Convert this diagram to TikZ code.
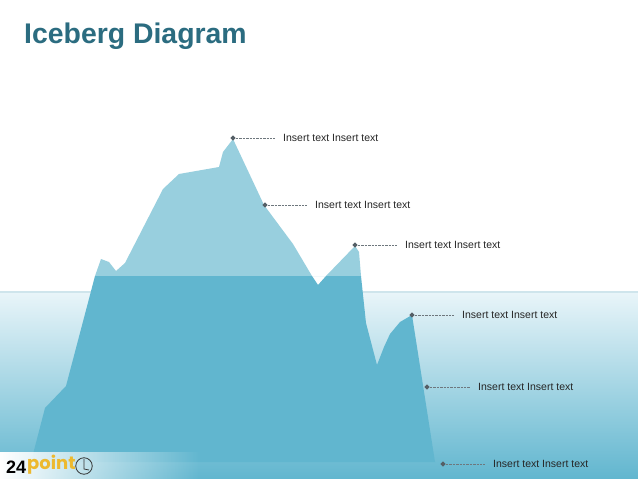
\documentclass[tikz,border=0pt]{standalone}
\usepackage{fontspec}
\setmainfont{Liberation Sans}
\newfontfamily\logofont{Poppins}
\usetikzlibrary{fadings,shapes.geometric}
\definecolor{titleteal}{HTML}{2B6C80}
\definecolor{icetop}{HTML}{98CFDE}
\definecolor{icebody}{HTML}{61B6CF}
\definecolor{watertop}{HTML}{E9F5F9}
\definecolor{watermid}{HTML}{B2DCE8}
\definecolor{waterline}{HTML}{CFE5EC}
\definecolor{tipgrey}{HTML}{555F66}
\definecolor{logoyellow}{HTML}{EDB92E}
\begin{document}
\begin{tikzpicture}[x=1pt,y=-1pt]
\tikzset{every node/.style={font=\fontsize{10.5}{12}\selectfont,text=black!85}}
\tikzset{tipdot/.style={diamond,fill=tipgrey,inner sep=0pt,minimum size=5.6pt},
  textlabel/.style={anchor=west,inner xsep=8pt,inner ysep=1pt},
  leader/.style={tipgrey!85,dash pattern=on 2.4pt off 1pt,line width=0.6pt}}
\useasboundingbox (0,0) rectangle (638,479);

% Sea and sky
\fill[white] (0,0) rectangle (638,291);
\fill[top color=watertop,middle color=watermid,bottom color=icebody] (0,292) rectangle (638,479);
\fill[waterline] (0,290.5) rectangle (638,292.5);

% Iceberg above the water
\fill[icetop] (95,276) -- (101,259) -- (109,262) -- (116,271) -- (125,263) -- (163,189)
  -- (179,174) -- (219,167) -- (223,152) -- (233,139) -- (264,205) -- (293,244)
  -- (312,276) -- (326,276) -- (355,246) -- (359,252) -- (361,276) -- cycle;

% Iceberg under the water
\fill[icebody] (95,276) -- (312,276) -- (318,285) -- (326,276) -- (361,276)
  -- (366,323) -- (377,365) -- (384,347) -- (390,334) -- (400,322) -- (412,315)
  -- (435,462) -- (31,462) -- (45,408) -- (66,386) -- cycle;

% Logo strip
\fill[white,path fading=east] (0,452) rectangle (200,479);
\node[font=\fontsize{18}{18}\selectfont\bfseries,text=black,anchor=base west,inner sep=0pt] at (6,473) (logofour) {24};
\node[font=\logofont\fontsize{18}{18}\selectfont\bfseries,text=logoyellow,anchor=base west,inner sep=0pt] at (27,469) (logopoint) {point};
\node[circle,draw=black!80,line width=0.8pt,minimum size=16.5pt,inner sep=0pt] at (84,466) (clock) {};
\draw[black!80,line width=0.7pt] (84,459) -- (84,469) -- (89,470);

% Title
\node[font=\fontsize{28.4}{30}\selectfont\bfseries,text=titleteal,anchor=base west,inner sep=0pt] at (24,43) (title) {Iceberg Diagram};

% Points on the iceberg
\node[tipdot] at (233,138) (tipa) {};
\node[tipdot] at (265,205) (tipb) {};
\node[tipdot] at (355,245) (tipc) {};
\node[tipdot] at (412,315) (tipd) {};
\node[tipdot] at (427,387) (tipe) {};
\node[tipdot] at (443,464) (tipf) {};

% Labels for the points
\node[textlabel] at (275,138) (labela) {Insert text Insert text};
\node[textlabel] at (307,205) (labelb) {Insert text Insert text};
\node[textlabel] at (397,245) (labelc) {Insert text Insert text};
\node[textlabel] at (454,315) (labeld) {Insert text Insert text};
\node[textlabel] at (470,387) (labele) {Insert text Insert text};
\node[textlabel] at (485,464) (labelf) {Insert text Insert text};

% Lines from points to labels
\draw[leader] (tipa) -- (labela);
\draw[leader] (tipb) -- (labelb);
\draw[leader] (tipc) -- (labelc);
\draw[leader] (tipd) -- (labeld);
\draw[leader] (tipe) -- (labele);
\draw[leader] (tipf) -- (labelf);
\end{tikzpicture}
\end{document}
